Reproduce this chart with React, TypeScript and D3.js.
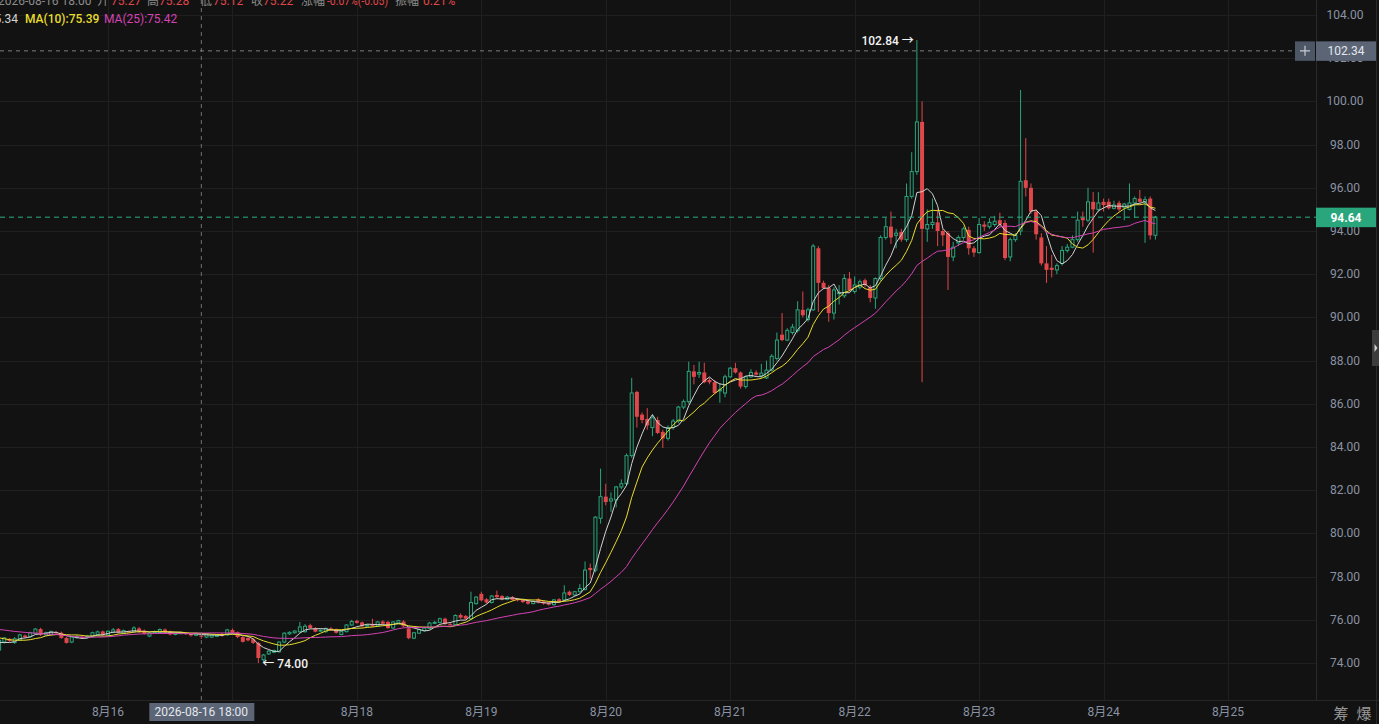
import React from 'react';
import * as d3 from 'd3';

// Data: hourly candles [open, high, low, close]

type Bar = [number, number, number, number];

// closes before the first visible hour, only used to seed the moving averages
const warmupCloses = [
    75.75, 75.82, 75.9, 75.85, 75.78, 75.86, 75.92, 75.88, 75.8, 75.74, 75.7, 75.78,
    75.82, 75.76, 75.72, 75.6, 75.45, 75.35, 75.3, 75.2, 75.15, 75.05, 74.9, 74.6,
];

const aug15: Bar[] = [ // 03:00 - 23:00
    [74.6, 75.1, 74.5, 75.05], [74.97, 75.2, 74.9, 75.16], [75.12, 75.15, 74.98, 75.02],
    [74.95, 75.2, 74.88, 75.12], [75.06, 75.35, 75.02, 75.3], [75.27, 75.32, 75.15, 75.2],
    [75.22, 75.45, 75.18, 75.4], [75.37, 75.62, 75.33, 75.57], [75.57, 75.63, 75.25, 75.3],
    [75.3, 75.45, 75.26, 75.4], [75.32, 75.5, 75.28, 75.45], [75.42, 75.48, 75.33, 75.38],
    [75.4, 75.45, 75.12, 75.16], [75.16, 75.2, 74.9, 74.93], [74.97, 75.25, 74.92, 75.2],
    [75.18, 75.3, 75.12, 75.22], [75.2, 75.25, 75.12, 75.17], [75.2, 75.3, 75.15, 75.24],
    [75.22, 75.45, 75.18, 75.4], [75.32, 75.5, 75.28, 75.44], [75.46, 75.5, 75.25, 75.3],
];

const aug16: Bar[] = [
    [75.3, 75.5, 75.26, 75.47], [75.42, 75.62, 75.38, 75.53], [75.57, 75.62, 75.36, 75.4],
    [75.38, 75.55, 75.33, 75.5], [75.45, 75.5, 75.38, 75.42], [75.44, 75.7, 75.4, 75.62],
    [75.6, 75.66, 75.38, 75.42], [75.5, 75.55, 75.32, 75.36], [75.25, 75.42, 75.2, 75.38],
    [75.42, 75.5, 75.38, 75.46], [75.4, 75.6, 75.36, 75.55], [75.55, 75.6, 75.38, 75.42],
    [75.45, 75.5, 75.28, 75.32], [75.32, 75.42, 75.28, 75.38], [75.4, 75.45, 75.35, 75.4],
    [75.38, 75.44, 75.3, 75.34], [75.34, 75.38, 75.22, 75.28], [75.28, 75.4, 75.24, 75.35],
    [75.27, 75.28, 75.12, 75.22], [75.2, 75.36, 75.15, 75.32], [75.2, 75.35, 75.16, 75.3],
    [75.25, 75.32, 75.2, 75.28], [75.34, 75.4, 75.22, 75.26], [75.3, 75.58, 75.26, 75.53],
];

const aug17: Bar[] = [
    [75.53, 75.6, 75.36, 75.4], [75.42, 75.46, 75.15, 75.2], [75.2, 75.25, 74.95, 74.98],
    [75.15, 75.2, 75.0, 75.05], [75.1, 75.15, 74.88, 74.93], [74.93, 74.97, 74.0, 74.23],
    [74.15, 74.42, 74.05, 74.37], [74.42, 74.6, 74.38, 74.55], [74.5, 74.62, 74.45, 74.58],
    [74.52, 75.0, 74.48, 74.97], [74.97, 75.42, 74.92, 75.38], [75.35, 75.46, 75.3, 75.42],
    [75.4, 75.52, 75.36, 75.48], [75.45, 75.9, 75.4, 75.67], [75.45, 75.8, 75.4, 75.7],
    [75.75, 75.82, 75.58, 75.62], [75.62, 75.66, 75.42, 75.45], [75.48, 75.56, 75.44, 75.52],
    [75.45, 75.64, 75.4, 75.6], [75.6, 75.66, 75.48, 75.52], [75.55, 75.6, 75.36, 75.4],
    [75.32, 75.5, 75.28, 75.45], [75.45, 75.8, 75.42, 75.76], [75.76, 76.0, 75.72, 75.92],
];

const aug18: Bar[] = [
    [75.95, 76.0, 75.82, 75.86], [75.88, 75.92, 75.66, 75.7], [75.72, 75.8, 75.68, 75.75],
    [75.78, 76.05, 75.66, 75.7], [75.72, 75.94, 75.68, 75.9], [75.92, 75.98, 75.78, 75.82],
    [75.9, 75.95, 75.58, 75.62], [75.62, 75.94, 75.58, 75.9], [75.85, 76.0, 75.8, 75.96],
    [75.92, 75.98, 75.66, 75.7], [75.6, 75.64, 75.1, 75.15], [75.15, 75.44, 75.1, 75.4],
    [75.38, 75.6, 75.34, 75.55], [75.5, 75.68, 75.46, 75.62], [75.6, 75.9, 75.56, 75.85],
    [75.85, 75.95, 75.8, 75.88], [75.88, 76.1, 75.84, 76.05], [76.05, 76.1, 75.76, 75.8],
    [75.8, 75.86, 75.74, 75.78], [75.78, 76.25, 75.74, 76.2], [76.22, 76.3, 76.05, 76.1],
    [76.18, 76.22, 76.0, 76.05], [76.05, 77.3, 76.0, 76.8], [76.75, 77.1, 76.7, 77.05],
];

const aug19: Bar[] = [
    [77.2, 77.3, 76.85, 76.9], [76.95, 77.0, 76.75, 76.8], [76.8, 77.15, 76.76, 77.1],
    [77.15, 77.35, 77.0, 77.05], [77.1, 77.15, 76.9, 76.95], [76.95, 77.1, 76.9, 77.05],
    [77.05, 77.1, 76.88, 76.92], [76.95, 77.0, 76.85, 76.9], [76.92, 76.96, 76.78, 76.82],
    [76.85, 76.9, 76.7, 76.75], [76.75, 76.9, 76.72, 76.85], [76.95, 77.0, 76.76, 76.8],
    [76.85, 76.9, 76.7, 76.75], [76.8, 76.84, 76.66, 76.7], [76.7, 76.96, 76.66, 76.92],
    [76.95, 77.0, 76.8, 76.85], [76.92, 77.6, 76.85, 77.24], [77.3, 77.35, 77.1, 77.15],
    [77.15, 77.34, 77.1, 77.3], [77.3, 77.65, 77.26, 77.45], [77.4, 78.7, 77.36, 78.3],
    [78.4, 78.6, 77.9, 78.3], [78.3, 80.8, 78.2, 80.75], [80.7, 83.0, 80.45, 81.7],
];

const aug20: Bar[] = [
    [81.7, 82.3, 81.3, 81.45], [81.5, 81.9, 81.0, 81.6], [81.55, 82.2, 81.2, 82.15],
    [82.15, 82.5, 82.05, 82.3], [82.3, 83.7, 82.2, 83.6], [83.6, 87.2, 83.5, 86.5],
    [86.55, 86.6, 84.9, 85.4], [85.5, 85.6, 85.1, 85.25], [85.3, 85.8, 84.8, 85.0],
    [84.9, 85.5, 84.5, 85.35], [85.25, 85.4, 84.6, 84.65], [84.7, 84.8, 83.95, 84.4],
    [84.4, 85.0, 84.3, 84.9], [84.9, 85.3, 84.8, 85.2], [85.2, 85.9, 85.1, 85.85],
    [85.85, 86.2, 85.75, 86.1], [86.1, 87.95, 86.0, 87.5], [87.5, 87.8, 86.9, 87.25],
    [87.38, 87.95, 87.2, 87.45], [87.45, 87.9, 86.95, 87.0], [87.1, 87.2, 86.9, 87.0],
    [87.0, 87.1, 86.45, 86.5], [86.6, 86.96, 86.05, 86.65], [86.5, 87.35, 86.3, 87.25],
];

const aug21: Bar[] = [
    [87.25, 87.7, 87.2, 87.65], [87.65, 87.9, 87.4, 87.45], [87.45, 87.5, 86.7, 86.8],
    [86.8, 87.3, 86.7, 87.25], [87.25, 87.6, 87.2, 87.45], [87.45, 87.55, 87.3, 87.35],
    [87.3, 87.85, 87.2, 87.42], [87.2, 88.0, 87.15, 87.56], [87.56, 88.3, 87.5, 88.2],
    [88.1, 89.3, 88.0, 88.95], [89.2, 90.2, 88.9, 88.95], [88.95, 89.5, 88.9, 89.4],
    [89.3, 89.7, 89.2, 89.55], [89.4, 90.75, 89.3, 90.35], [90.35, 91.2, 90.0, 90.1],
    [89.9, 90.45, 89.8, 90.35], [90.35, 93.4, 90.3, 93.3], [93.2, 93.3, 90.25, 91.6],
    [91.6, 91.7, 91.3, 91.36], [91.36, 91.5, 89.8, 90.2], [90.2, 91.4, 89.9, 91.27],
    [91.1, 91.5, 90.6, 91.15], [91.0, 92.0, 90.9, 91.8], [91.8, 92.1, 91.2, 91.27],
];

const aug22: Bar[] = [
    [91.2, 91.9, 91.1, 91.5], [91.4, 91.75, 91.3, 91.65], [91.72, 91.8, 91.4, 91.5],
    [91.4, 91.5, 90.7, 90.9], [90.9, 91.85, 90.4, 91.8], [91.8, 93.8, 91.7, 93.7],
    [93.7, 94.6, 93.6, 94.2], [94.2, 94.9, 93.4, 93.7], [93.8, 94.1, 93.2, 93.9],
    [93.95, 94.1, 93.5, 93.6], [93.6, 96.2, 93.5, 95.6], [95.6, 97.65, 95.5, 96.75],
    [96.75, 102.84, 96.6, 99.05], [99.05, 100.0, 87.0, 94.1], [94.1, 95.0, 93.5, 94.3],
    [94.3, 95.5, 94.1, 94.4], [94.4, 95.0, 93.3, 94.0], [94.0, 94.1, 93.3, 93.8],
    [93.9, 94.0, 91.27, 92.8], [92.8, 93.5, 92.6, 93.25], [93.45, 93.8, 93.3, 93.7],
    [93.7, 94.2, 93.6, 94.1], [94.05, 94.2, 92.9, 93.2], [93.2, 93.3, 92.8, 93.0],
];

const aug23: Bar[] = [
    [93.0, 94.6, 92.95, 94.3], [94.3, 94.45, 94.0, 94.2], [94.2, 94.6, 94.1, 94.4],
    [94.3, 94.7, 94.2, 94.45], [94.5, 94.85, 94.2, 94.3], [94.37, 94.5, 92.65, 92.75],
    [92.8, 93.7, 92.6, 93.6], [93.6, 93.9, 93.5, 93.8], [94.0, 100.53, 93.8, 96.3],
    [96.35, 98.3, 95.6, 96.0], [96.0, 96.2, 94.8, 94.9], [94.9, 95.0, 93.6, 93.85],
    [93.7, 93.9, 92.4, 92.5], [92.5, 93.3, 91.6, 92.2], [92.3, 92.9, 91.85, 92.2],
    [92.2, 92.5, 92.0, 92.4], [92.5, 93.3, 92.4, 93.1], [93.1, 93.4, 93.0, 93.25],
    [93.25, 93.8, 93.2, 93.6], [93.6, 94.9, 93.5, 94.5], [94.6, 94.9, 94.2, 94.5],
    [94.5, 96.0, 94.4, 95.35], [95.35, 95.8, 93.0, 95.0], [95.0, 95.8, 94.9, 95.3],
];

const aug24: Bar[] = [ // 00:00 - 10:00
    [95.35, 95.5, 94.9, 95.2], [95.35, 95.5, 95.0, 95.05], [95.05, 95.4, 95.0, 95.2],
    [95.3, 95.4, 94.9, 95.0], [95.1, 95.3, 94.5, 95.25], [95.0, 96.2, 94.95, 95.3],
    [95.3, 95.6, 94.6, 95.5], [95.5, 95.9, 95.3, 95.35], [95.35, 95.6, 93.45, 95.45],
    [95.5, 95.6, 93.6, 93.8], [93.8, 94.7, 93.6, 94.64],
];

const dayBlocks: { start: string; bars: Bar[] }[] = [
    { start: '2026-08-15T03:00:00Z', bars: aug15 },
    { start: '2026-08-16T00:00:00Z', bars: aug16 },
    { start: '2026-08-17T00:00:00Z', bars: aug17 },
    { start: '2026-08-18T00:00:00Z', bars: aug18 },
    { start: '2026-08-19T00:00:00Z', bars: aug19 },
    { start: '2026-08-20T00:00:00Z', bars: aug20 },
    { start: '2026-08-21T00:00:00Z', bars: aug21 },
    { start: '2026-08-22T00:00:00Z', bars: aug22 },
    { start: '2026-08-23T00:00:00Z', bars: aug23 },
    { start: '2026-08-24T00:00:00Z', bars: aug24 },
];

const maSeries = [
    { period: 5, color: '#d2d2d2' },
    { period: 10, color: '#e8dc2c' },
    { period: 25, color: '#d442b4' },
];

// header row: text, left edge, colour, optional squeezed width
const headerLine1: { text: string; x: number; color: string; w?: number }[] = [
    { text: '2026-08-16 18:00', x: -2, color: '#8c8c8c' },
    { text: '开', x: 97, color: '#8c8c8c' },
    { text: '75.27', x: 111, color: '#e0474b' },
    { text: '高', x: 147, color: '#8c8c8c' },
    { text: '75.28', x: 159, color: '#e0474b' },
    { text: '低', x: 200, color: '#8c8c8c' },
    { text: '75.12', x: 213, color: '#e0474b' },
    { text: '收', x: 251, color: '#8c8c8c' },
    { text: '75.22', x: 263, color: '#e0474b' },
    { text: '涨幅', x: 301, color: '#8c8c8c' },
    { text: '-0.07%(-0.05)', x: 327, color: '#e0474b', w: 61 },
    { text: '振幅', x: 395, color: '#8c8c8c' },
    { text: '0.21%', x: 423, color: '#e0474b' },
];

const maLegend = ['MA(5):75.34', 'MA(10):75.39', 'MA(25):75.42'];

const crosshairTime = '2026-08-16T18:00:00Z';
const crosshairPrice = 102.34;
const lastPrice = 94.64;
const highMark = 102.84;
const lowMark = 74.0;

// Layout

const W = 1379;
const H = 724;
const PLOT_R = 1316;
const PLOT_B = 700;
const BG = '#121212';
const UP = '#29a67c';
const DOWN = '#e0474b';
const FONT = "Roboto, 'Noto Sans CJK SC', sans-serif";

const HOUR = 3600 * 1000;

export default function App() {
    const warmStart = new Date(dayBlocks[0].start).getTime() - warmupCloses.length * HOUR;
    const candles = dayBlocks.flatMap((b) =>
        b.bars.map(([o, h, l, c], i) => ({ t: new Date(new Date(b.start).getTime() + i * HOUR), o, h, l, c })));
    const allCloses = [...warmupCloses, ...candles.map((d) => d.c)];
    const allTimes = [
        ...warmupCloses.map((_, i) => new Date(warmStart + i * HOUR)),
        ...candles.map((d) => d.t),
    ];

    const x = d3.scaleUtc()
        .domain([new Date('2026-08-16T00:00:00Z'), new Date('2026-08-25T00:00:00Z')])
        .range([108, 1228]);
    const y = d3.scaleLinear().domain([74, 104]).range([663, 15]);

    const priceTicks = y.ticks(15);
    const dayTicks = d3.utcDay.range(new Date('2026-08-15T00:00:00Z'), new Date('2026-08-26T00:00:00Z'));

    const maLines = maSeries.map((m) => {
        const pts: [Date, number][] = [];
        for (let i = m.period - 1; i < allCloses.length; i++) {
            pts.push([allTimes[i], d3.mean(allCloses.slice(i - m.period + 1, i + 1)) as number]);
        }
        const line = d3.line<[Date, number]>().x((d) => x(d[0])).y((d) => y(d[1]));
        return { ...m, d: line(pts) as string };
    });

    const bw = 3;
    const highC = candles.find((d) => d.h === highMark)!;
    const lowC = candles.find((d) => d.l === lowMark)!;
    const chX = x(new Date(crosshairTime));
    const chY = y(crosshairPrice);
    const lastY = y(lastPrice);

    // the crosshair time box hides the day label under it
    const dayLabels = dayTicks.filter((d) => Math.abs(x(d) - chX) > 60);

    return (
        <div style={{ position: 'fixed', left: 0, top: 0, width: W, height: H, background: BG }}>
            <svg width={W} height={H} style={{ display: 'block', fontFamily: FONT }}>
                <rect width={W} height={H} fill={BG} />
                <defs>
                    <clipPath id="plot">
                        <rect x={0} y={0} width={PLOT_R} height={PLOT_B} />
                    </clipPath>
                </defs>

                {/* grid */}
                <g stroke="#1f1f1f" strokeWidth={1}>
                    {priceTicks.map((p) => (
                        <line key={p} x1={0} x2={PLOT_R} y1={Math.round(y(p)) + 0.5} y2={Math.round(y(p)) + 0.5} />
                    ))}
                    {dayTicks.map((d) => (
                        <line key={+d} x1={Math.round(x(d)) + 0.5} x2={Math.round(x(d)) + 0.5} y1={0} y2={PLOT_B} />
                    ))}
                </g>

                <g clipPath="url(#plot)">
                    {/* candles */}
                    {candles.map((d, i) => {
                        const cx = x(d.t);
                        const up = d.c >= d.o;
                        const top = y(Math.max(d.o, d.c));
                        const bot = y(Math.min(d.o, d.c));
                        const bh = Math.max(1, bot - top);
                        if (up) {
                            return (
                                <g key={i} stroke={UP} strokeWidth={1}>
                                    <line x1={cx} x2={cx} y1={y(d.h)} y2={top} />
                                    <line x1={cx} x2={cx} y1={top + bh} y2={y(d.l)} />
                                    <rect x={cx - bw / 2} y={top} width={bw} height={bh} fill={BG} />
                                </g>
                            );
                        }
                        return (
                            <g key={i}>
                                <line x1={cx} x2={cx} y1={y(d.h)} y2={y(d.l)} stroke={DOWN} strokeWidth={1} />
                                <rect x={cx - bw / 2 - 0.5} y={top} width={bw + 1} height={bh} fill={DOWN} />
                            </g>
                        );
                    })}

                    {/* moving averages */}
                    {maLines.map((m) => (
                        <path key={m.period} d={m.d} fill="none" stroke={m.color} strokeWidth={1} />
                    ))}

                    {/* crosshair */}
                    <line x1={chX} x2={chX} y1={0} y2={PLOT_B} stroke="#6f6f6f" strokeDasharray="4 4" />
                    <line x1={0} x2={1295} y1={chY} y2={chY} stroke="#7d7d7d" strokeDasharray="4 4" />

                    {/* last price line */}
                    <line x1={0} x2={PLOT_R} y1={lastY} y2={lastY} stroke="#2bb083" strokeDasharray="5 4" />

                    {/* high / low marks */}
                    <text x={x(highC.t) - 3} y={y(highC.h) + 5} textAnchor="end" fill="#f2f2f2" fontSize={12} fontWeight={500}>
                        {highMark.toFixed(2)} →
                    </text>
                    <text x={x(lowC.t) + 4} y={y(lowC.l) + 5} fill="#f2f2f2" fontSize={12} fontWeight={500}>
                        ← {lowMark.toFixed(2)}
                    </text>
                </g>

                {/* axis frame */}
                <line x1={PLOT_R + 0.5} x2={PLOT_R + 0.5} y1={0} y2={PLOT_B} stroke="#2a2a2a" />
                <line x1={0} x2={W} y1={PLOT_B + 0.5} y2={PLOT_B + 0.5} stroke="#262626" />
                <line x1={1376.5} x2={1376.5} y1={0} y2={H} stroke="#2a2a2a" />

                {/* price axis labels */}
                {priceTicks.map((p) => (
                    <text key={p} x={1345} y={y(p) + 4} textAnchor="middle" fill="#8a93a4" fontSize={12}>
                        {p.toFixed(2)}
                    </text>
                ))}

                {/* date axis labels */}
                {dayLabels.map((d) => (
                    <text key={+d} x={x(d)} y={716} textAnchor="middle" fill="#8a93a4" fontSize={12}>
                        {`${d.getUTCMonth() + 1}月${d.getUTCDate()}`}
                    </text>
                ))}

                {/* crosshair labels */}
                <rect x={1295} y={chY - 9.5} width={20} height={19.5} fill="#4d5664" />
                <line x1={1300} x2={1310} y1={chY} y2={chY} stroke="#c9ced6" strokeWidth={1.2} />
                <line x1={1305} x2={1305} y1={chY - 5} y2={chY + 5} stroke="#c9ced6" strokeWidth={1.2} />
                <rect x={1316} y={chY - 9.5} width={60} height={19.5} fill="#5b6576" />
                <text x={1346} y={chY + 4.5} textAnchor="middle" fill="#e4e7ec" fontSize={12}>
                    {crosshairPrice.toFixed(2)}
                </text>
                <rect x={chX - 52} y={703} width={105} height={18} fill="#5b6576" />
                <text x={chX} y={716} textAnchor="middle" fill="#e4e7ec" fontSize={12}>
                    2026-08-16 18:00
                </text>

                {/* last price label */}
                <rect x={1316} y={lastY - 9.5} width={60} height={19.5} fill={UP} />
                <text x={1346} y={lastY + 4.5} textAnchor="middle" fill="#ffffff" fontSize={12} fontWeight={700}>
                    {lastPrice.toFixed(2)}
                </text>

                {/* header */}
                <g fontSize={12}>
                    {headerLine1.map((h) => (
                        <text key={h.x} x={h.x} y={5} fill={h.color}
                            textLength={h.w} lengthAdjust={h.w ? 'spacingAndGlyphs' : undefined}>
                            {h.text}
                        </text>
                    ))}
                    <text x={18} y={23} textAnchor="end" fill={maSeries[0].color}>{maLegend[0]}</text>
                    <text x={25} y={23} fill={maSeries[1].color} fontWeight={500}>{maLegend[1]}</text>
                    <text x={104} y={23} fill={maSeries[2].color}>{maLegend[2]}</text>
                </g>

                {/* right side tab and bottom tools */}
                <rect x={1372} y={330} width={7} height={36} fill="#3c3c3c" />
                <path d="M1374.5,344 L1377.5,348 L1374.5,352 Z" fill="#cfcfcf" />
                <text x={1341} y={719} textAnchor="middle" fill="#9a9a9a" fontSize={15}>筹</text>
                <text x={1364} y={719} textAnchor="middle" fill="#9a9a9a" fontSize={15}>爆</text>
            </svg>
        </div>
    );
}
